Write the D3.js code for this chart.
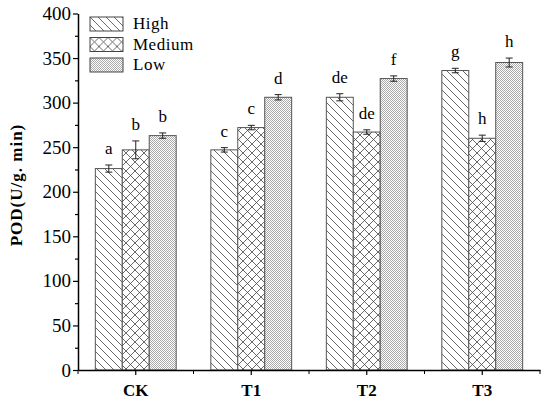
<!DOCTYPE html>
<html>
<head>
<meta charset="utf-8">
<script src="https://cdn.jsdelivr.net/npm/d3@7"></script>
<style>
  body { margin: 0; background: #fff; }
  text { font-family: "Liberation Serif", "Times New Roman", serif; fill: #000; }
</style>
</head>
<body>
<div id="chart"></div>
<script>
// data
var categories = ["CK", "T1", "T2", "T3"];
var seriesNames = ["High", "Medium", "Low"];
var highValues = [226, 247, 306, 336];
var mediumValues = [247, 272, 267, 260];
var lowValues = [263, 306, 327, 345];
var highErr = [4, 2.5, 4, 2.5];
var mediumErr = [10, 2.5, 2.5, 3.5];
var lowErr = [3, 3, 3, 5];
var highLetters = ["a", "c", "de", "g"];
var mediumLetters = ["b", "c", "de", "h"];
var lowLetters = ["b", "d", "f", "h"];
var yTicks = [0, 50, 100, 150, 200, 250, 300, 350, 400];

var width = 550, height = 404;
// plot area (note: "top" is a reserved window property, so use other names)
var plotLeft = 78, plotRight = 540, plotTop = 13.5, plotBottom = 370;

var rows = [];
categories.forEach(function(c, i) {
    rows.push({cat: c, s: "High", v: highValues[i], e: highErr[i], l: highLetters[i]});
    rows.push({cat: c, s: "Medium", v: mediumValues[i], e: mediumErr[i], l: mediumLetters[i]});
    rows.push({cat: c, s: "Low", v: lowValues[i], e: lowErr[i], l: lowLetters[i]});
});

var x0 = d3.scaleBand().domain(categories).range([plotLeft, plotRight])
    .paddingInner(0.3).paddingOuter(0.15);
var x1 = d3.scaleBand().domain(seriesNames).range([0, x0.bandwidth()]);
var y = d3.scaleLinear().domain([0, 400]).range([plotBottom, plotTop]);

var svg = d3.select("#chart").append("svg")
    .attr("width", width)
    .attr("height", height);

// hatch patterns
var defs = svg.append("defs");
var pHigh = defs.append("pattern").attr("id", "pat-High")
    .attr("patternUnits", "userSpaceOnUse").attr("width", 8).attr("height", 8);
pHigh.append("rect").attr("width", 8).attr("height", 8).attr("fill", "#fff");
pHigh.append("path").attr("d", "M-2,-2 L10,10 M-2,6 L2,10 M6,-2 L10,2")
    .attr("stroke", "#444").attr("stroke-width", 0.8);

var pMed = defs.append("pattern").attr("id", "pat-Medium")
    .attr("patternUnits", "userSpaceOnUse").attr("width", 9).attr("height", 9);
pMed.append("rect").attr("width", 9).attr("height", 9).attr("fill", "#fff");
pMed.append("path").attr("d", "M0,0 L9,9 M9,0 L0,9")
    .attr("stroke", "#444").attr("stroke-width", 0.8);

var pLow = defs.append("pattern").attr("id", "pat-Low")
    .attr("patternUnits", "userSpaceOnUse").attr("width", 2).attr("height", 2);
pLow.append("rect").attr("width", 2).attr("height", 2).attr("fill", "#fff");
pLow.append("rect").attr("x", 0).attr("y", 0).attr("width", 1).attr("height", 1).attr("fill", "#aaa");
pLow.append("rect").attr("x", 1).attr("y", 1).attr("width", 1).attr("height", 1).attr("fill", "#aaa");

// bars
svg.append("g")
    .selectAll("rect")
    .data(rows)
    .enter()
    .append("rect")
    .attr("x", function(d) { return x0(d.cat) + x1(d.s); })
    .attr("y", function(d) { return y(d.v); })
    .attr("width", x1.bandwidth())
    .attr("height", function(d) { return y(0) - y(d.v); })
    .attr("fill", function(d) { return "url(#pat-" + d.s + ")"; })
    .attr("stroke", "#555")
    .attr("stroke-width", 1);

// error bars
var eb = svg.append("g").attr("stroke", "#222").attr("stroke-width", 1);
rows.forEach(function(d) {
    var cx = x0(d.cat) + x1(d.s) + x1.bandwidth() / 2;
    eb.append("line").attr("x1", cx).attr("x2", cx)
        .attr("y1", y(d.v - d.e)).attr("y2", y(d.v + d.e));
    eb.append("line").attr("x1", cx - 3.5).attr("x2", cx + 3.5)
        .attr("y1", y(d.v + d.e)).attr("y2", y(d.v + d.e));
    eb.append("line").attr("x1", cx - 3.5).attr("x2", cx + 3.5)
        .attr("y1", y(d.v - d.e)).attr("y2", y(d.v - d.e));
});

// significance letters
svg.append("g")
    .selectAll("text")
    .data(rows)
    .enter()
    .append("text")
    .attr("x", function(d) { return x0(d.cat) + x1(d.s) + x1.bandwidth() / 2; })
    .attr("y", function(d) { return y(d.v + d.e) - 11; })
    .attr("text-anchor", "middle")
    .style("font-size", "17px")
    .text(function(d) { return d.l; });

// y axis
var yAxis = svg.append("g")
    .attr("transform", "translate(" + plotLeft + ",0)")
    .call(d3.axisLeft(y).tickValues(yTicks).tickSize(5).tickSizeOuter(0));
yAxis.append("g")
    .call(d3.axisLeft(y).tickValues(d3.range(25, 400, 50)).tickSize(3).tickFormat(""))
    .select(".domain").remove();
yAxis.selectAll("text")
    .style("font-size", "19px")
    .attr("x", -7)
    .style("font-family", "'Liberation Serif', serif");

// x axis
var bounds = d3.range(categories.length + 1).map(function(i) { return plotLeft + x0.step() * i; });
var xAxis = svg.append("g")
    .attr("transform", "translate(0," + plotBottom + ")")
    .call(d3.axisBottom(x0).tickSize(5).tickSizeOuter(0));
xAxis.selectAll(".minor")
    .data(bounds)
    .enter()
    .append("line")
    .attr("class", "minor")
    .attr("x1", function(d) { return d; })
    .attr("x2", function(d) { return d; })
    .attr("y1", 0).attr("y2", 4)
    .attr("stroke", "#000");
xAxis.selectAll("text")
    .style("font-size", "17px")
    .style("font-weight", "bold")
    .attr("dy", "1.0em")
    .attr("y", 9);

svg.selectAll(".domain").attr("stroke-width", 1.5);
svg.selectAll(".tick line").attr("stroke-width", 1.2);

// y axis title
svg.append("text")
    .attr("transform", "translate(22,185) rotate(-90)")
    .attr("text-anchor", "middle")
    .style("font-size", "17px")
    .style("font-weight", "bold")
    .style("letter-spacing", "1px")
    .text("POD(U/g. min)");

// legend
var legend = svg.append("g").attr("transform", "translate(90,17)");
seriesNames.forEach(function(s, i) {
    var g = legend.append("g").attr("transform", "translate(0," + (i * 20.5) + ")");
    g.append("rect")
        .attr("width", 33).attr("height", 14)
        .attr("fill", "url(#pat-" + s + ")")
        .attr("stroke", "#444").attr("stroke-width", 1);
    g.append("text")
        .attr("x", 43).attr("y", 12)
        .style("font-size", "17px")
        .style("letter-spacing", "0.5px")
        .text(s);
});
</script>
</body>
</html>
